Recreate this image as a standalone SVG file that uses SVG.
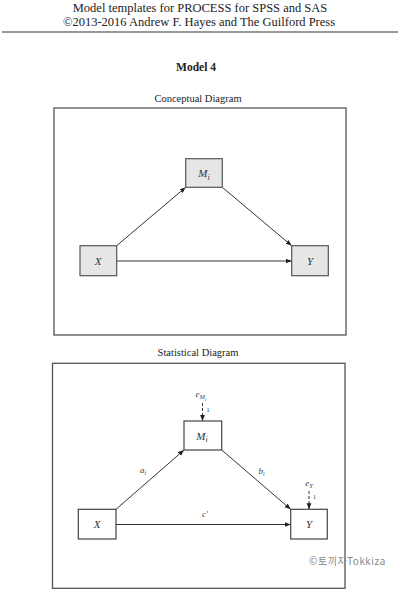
<svg xmlns="http://www.w3.org/2000/svg" width="400" height="592" viewBox="0 0 400 592">
<style>
.hdr{font-family:"Liberation Serif",serif;font-size:12.5px;fill:#222;text-anchor:middle}
.ttl{font-family:"Liberation Serif",serif;font-size:10.5px;fill:#222;text-anchor:middle}
.frame{fill:none;stroke:#555;stroke-width:1.3}
.cnode{fill:#e6e6e6;stroke:#555;stroke-width:1.2}
.snode{fill:#fff;stroke:#444;stroke-width:1.2}
.lab{font-family:"Liberation Serif",serif;font-style:italic;font-size:11px;fill:#333;text-anchor:middle}
.sm{font-family:"Liberation Serif",serif;font-style:italic;font-size:9px;fill:#444;text-anchor:middle}
.one{font-family:"Liberation Serif",serif;font-size:7px;fill:#444;text-anchor:middle}
.edge{stroke:#333;stroke-width:1;fill:none;marker-end:url(#ah)}
.dash{stroke:#333;stroke-width:1;fill:none;stroke-dasharray:3,2;marker-end:url(#ah)}
</style>
<defs>
<marker id="ah" viewBox="0 0 10 10" refX="10" refY="5" markerWidth="6" markerHeight="6" orient="auto" markerUnits="userSpaceOnUse">
<path d="M0,1 L10,5 L0,9 Z" fill="#222"/>
</marker>
</defs>
<rect width="400" height="592" fill="#fff"/>
<text class="hdr" x="200" y="11.5">Model templates for PROCESS for SPSS and SAS</text>
<text class="hdr" x="199" y="26">©2013-2016 Andrew F. Hayes and The Guilford Press</text>
<line x1="2" y1="32" x2="398" y2="32" stroke="#333" stroke-width="1"/>
<text x="196" y="71" font-family="Liberation Serif,serif" font-weight="bold" font-size="11.5px" fill="#222" text-anchor="middle">Model 4</text>
<text class="ttl" x="198" y="102">Conceptual Diagram</text>
<rect class="frame" x="54" y="108" width="292" height="227"/>
<g id="connectors-conceptual">
<line class="edge" x1="116.7" y1="245.7" x2="185.7" y2="187.3"/>
<line class="edge" x1="222.3" y1="187.3" x2="291.7" y2="245.7"/>
<line class="edge" x1="116.7" y1="261" x2="291.7" y2="261"/>
</g>
<g id="c-M"><rect class="cnode" x="185.7" y="158.7" width="36.6" height="28.6"/><text class="lab" x="204" y="177">M<tspan font-size="8" dy="2.5">i</tspan></text></g>
<g id="c-X"><rect class="cnode" x="80" y="245.7" width="36.7" height="30"/><text class="lab" x="98" y="264.5">X</text></g>
<g id="c-Y"><rect class="cnode" x="291.7" y="245.7" width="36.6" height="30"/><text class="lab" x="310" y="264.5">Y</text></g>
<text class="ttl" x="198" y="356">Statistical Diagram</text>
<rect class="frame" x="52.5" y="363.3" width="292.5" height="225"/>
<g id="connectors-statistical">
<line class="edge" x1="116" y1="509.3" x2="184" y2="450"/>
<line class="edge" x1="221.7" y1="450" x2="290.7" y2="509.3"/>
<line class="edge" x1="116" y1="524.5" x2="290.7" y2="524.5"/>
<line class="dash" x1="202.5" y1="403" x2="202.5" y2="421"/>
<line class="dash" x1="309" y1="491" x2="309" y2="509.3"/>
</g>
<g id="s-M"><rect class="snode" x="184" y="421" width="37.7" height="29"/><text class="lab" x="202" y="439.5">M<tspan font-size="8" dy="2.5">i</tspan></text></g>
<g id="s-X"><rect class="snode" x="78.3" y="509.3" width="37.7" height="29.7"/><text class="lab" x="97" y="528">X</text></g>
<g id="s-Y"><rect class="snode" x="290.7" y="509.3" width="36.6" height="29.7"/><text class="lab" x="309" y="528">Y</text></g>
<g id="labels">
<text class="sm" x="201" y="397">e<tspan font-size="6.5" dy="2">M</tspan><tspan font-size="5" dy="1.5">i</tspan></text>
<text class="one" x="208" y="412">1</text>
<text class="sm" x="309" y="486">e<tspan font-size="6.5" dy="2">Y</tspan></text>
<text class="one" x="314.5" y="499">1</text>
<text class="sm" x="143" y="473">a<tspan font-size="6" dy="2">i</tspan></text>
<text class="sm" x="261.5" y="474">b<tspan font-size="6" dy="2">i</tspan></text>
<text class="sm" x="205" y="517">c'</text>
</g>
<text x="309" y="565" font-family="Noto Sans,Noto Sans CJK KR,sans-serif" font-size="10px" letter-spacing="0.6" fill="#888">©토끼자Tokkiza</text>
</svg>
